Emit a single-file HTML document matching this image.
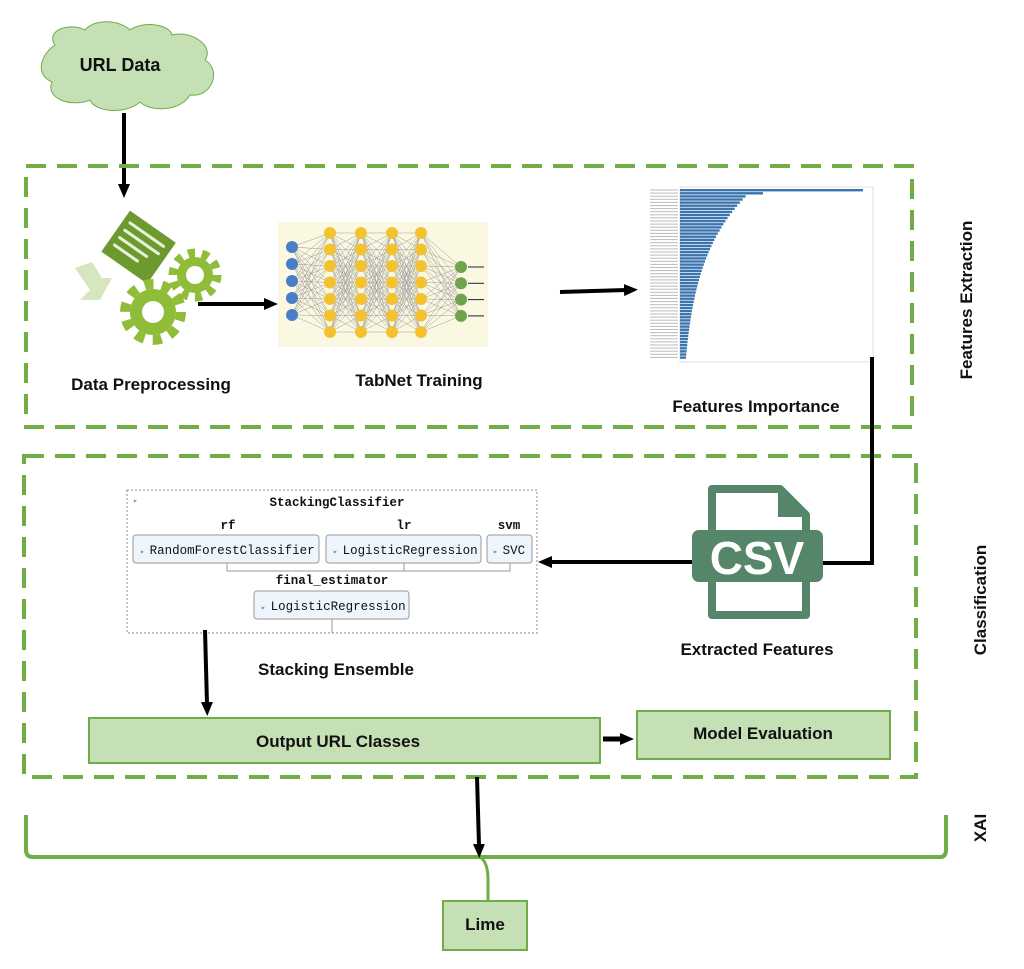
<!DOCTYPE html>
<html><head><meta charset="utf-8"><style>
html,body{margin:0;padding:0;background:#fff;}
body{width:1024px;height:969px;overflow:hidden;position:relative;font-family:"Liberation Sans",sans-serif;}
svg{position:absolute;left:0;top:0;}
</style></head><body>
<svg id="s" width="1024" height="969" viewBox="0 0 1024 969" xmlns="http://www.w3.org/2000/svg">
<defs>
<marker id="ah" markerWidth="14" markerHeight="12" refX="2" refY="6" orient="auto" markerUnits="userSpaceOnUse"><path d="M0,0 L14,6 L0,12 z" fill="#000"/></marker>
</defs>
<g fill="#c5e0b4" stroke="#70ad47" stroke-width="1">
<path d="M55,45 C45,30 70,22 85,30 C95,18 120,20 130,30 C145,20 170,25 172,35 C190,30 215,45 205,60 C222,70 212,98 190,95 C180,112 150,112 140,102 C125,115 95,112 90,100 C70,108 45,98 52,82 C35,75 40,55 55,45 Z"/>
</g>
<text x="120" y="71" font-size="18" font-weight="bold" text-anchor="middle" fill="#111">URL Data</text>
<line x1="124" y1="113" x2="124" y2="186" stroke="#000" stroke-width="4" marker-end="url(#ah)"/>
<rect x="26" y="166" width="886" height="261" fill="none" stroke="#70ad47" stroke-width="4" stroke-dasharray="20,11"/>
<rect x="24" y="456" width="892" height="321" fill="none" stroke="#70ad47" stroke-width="4" stroke-dasharray="20,11"/>
<polygon points="75,268 92,262 102,278 112,278 100,300 80,300 90,290" fill="#d6e6bf"/>
<g transform="rotate(35 138 248)"><rect x="110" y="222" width="56" height="50" fill="#6c9a2f"/>
<g stroke="#e8f2d8" stroke-width="3" stroke-linecap="round"><line x1="117" y1="232" x2="158" y2="232"/><line x1="117" y1="241" x2="158" y2="241"/><line x1="117" y1="250" x2="150" y2="250"/><line x1="117" y1="259" x2="145" y2="259"/></g></g>
<g fill="#8fbd3a"><circle cx="195" cy="275" r="18"/><circle cx="195" cy="275" r="22" fill="none" stroke="#8fbd3a" stroke-width="9" stroke-dasharray="7,6.8"/><circle cx="195" cy="275" r="9" fill="#fff"/></g>
<g fill="#8fbd3a"><circle cx="153" cy="312" r="23"/><circle cx="153" cy="312" r="28" fill="none" stroke="#8fbd3a" stroke-width="10" stroke-dasharray="9,8.6"/><circle cx="153" cy="312" r="11" fill="#fff"/></g>
<text x="151" y="390" font-size="17" font-weight="bold" text-anchor="middle" fill="#111">Data Preprocessing</text>
<line x1="198" y1="304" x2="266" y2="304" stroke="#000" stroke-width="4" marker-end="url(#ah)"/>
<rect x="278" y="222" width="210" height="125" fill="#fbf8e2"/>
<g id="nn"></g>
<text x="419" y="386" font-size="17" font-weight="bold" text-anchor="middle" fill="#111">TabNet Training</text>
<line x1="560" y1="292" x2="626" y2="290" stroke="#000" stroke-width="4" marker-end="url(#ah)"/>
<rect x="680" y="187" width="193" height="175" fill="none" stroke="#ccc" stroke-width="0.6"/>
<g id="bars"></g>
<text x="756" y="412" font-size="17" font-weight="bold" text-anchor="middle" fill="#111">Features Importance</text>
<polyline points="872,357 872,563 818,563" fill="none" stroke="#000" stroke-width="4"/>
<path d="M712,489 L780,489 L806,515 L806,615 L712,615 Z" fill="#fff" stroke="#55866a" stroke-width="8" stroke-linejoin="round"/>
<polygon points="778,489 806,517 778,517" fill="#55866a"/>
<rect x="692" y="530" width="131" height="52" rx="7" fill="#55866a"/>
<text x="757" y="574" font-size="46" font-weight="bold" text-anchor="middle" fill="#fff">CSV</text>
<text x="757" y="655" font-size="17" font-weight="bold" text-anchor="middle" fill="#111">Extracted Features</text>
<line x1="692" y1="562" x2="550" y2="562" stroke="#000" stroke-width="4" marker-end="url(#ah)"/>
<rect x="127" y="490" width="410" height="143" fill="none" stroke="#888" stroke-width="1" stroke-dasharray="2,2"/>
<g font-family="Liberation Mono, monospace" font-size="12.5" fill="#111">
<text x="133" y="503" font-size="8" fill="#888">▸</text>
<text x="337" y="506" text-anchor="middle" font-weight="bold">StackingClassifier</text>
<text x="228" y="529" text-anchor="middle" font-weight="bold">rf</text>
<text x="404" y="529" text-anchor="middle" font-weight="bold">lr</text>
<text x="509" y="529" text-anchor="middle" font-weight="bold">svm</text>
<rect x="133" y="535" width="186" height="28" rx="3" fill="#eef5fc" stroke="#999"/>
<rect x="326" y="535" width="155" height="28" rx="3" fill="#eef5fc" stroke="#999"/>
<rect x="487" y="535" width="45" height="28" rx="3" fill="#eef5fc" stroke="#999"/>
<text x="140" y="554"><tspan font-size="8" fill="#888">▸ </tspan>RandomForestClassifier</text>
<text x="333" y="554"><tspan font-size="8" fill="#888">▸ </tspan>LogisticRegression</text>
<text x="493" y="554"><tspan font-size="8" fill="#888">▸ </tspan>SVC</text>
<polyline points="227,563 227,571 510,571 510,563" fill="none" stroke="#999"/>
<line x1="404" y1="563" x2="404" y2="571" stroke="#999"/>
<text x="332" y="584" text-anchor="middle" font-weight="bold">final_estimator</text>
<rect x="254" y="591" width="155" height="28" rx="3" fill="#eef5fc" stroke="#999"/>
<text x="261" y="610"><tspan font-size="8" fill="#888">▸ </tspan>LogisticRegression</text>
<line x1="332" y1="619" x2="332" y2="633" stroke="#999"/>
</g>
<text x="336" y="675" font-size="17" font-weight="bold" text-anchor="middle" fill="#111">Stacking Ensemble</text>
<line x1="205" y1="630" x2="207" y2="704" stroke="#000" stroke-width="4" marker-end="url(#ah)"/>
<rect x="89" y="718" width="511" height="45" fill="#c5e0b4" stroke="#70ad47" stroke-width="2"/>
<text x="338" y="747" font-size="17" font-weight="bold" text-anchor="middle" fill="#111">Output URL Classes</text>
<line x1="603" y1="739" x2="622" y2="739" stroke="#000" stroke-width="5" marker-end="url(#ah)"/>
<rect x="637" y="711" width="253" height="48" fill="#c5e0b4" stroke="#70ad47" stroke-width="2"/>
<text x="763" y="739" font-size="17" font-weight="bold" text-anchor="middle" fill="#111">Model Evaluation</text>
<path d="M26,815 L26,850 Q26,857 33,857 L940,857 Q946,857 946,850 L946,815" fill="none" stroke="#70ad47" stroke-width="4"/>
<path d="M480,857 Q488,862 488,880 L488,901" fill="none" stroke="#70ad47" stroke-width="3"/>
<line x1="477" y1="777" x2="479" y2="846" stroke="#000" stroke-width="4" marker-end="url(#ah)"/>
<rect x="443" y="901" width="84" height="49" fill="#c5e0b4" stroke="#70ad47" stroke-width="2"/>
<text x="485" y="930" font-size="17" font-weight="bold" text-anchor="middle" fill="#111">Lime</text>
<text transform="translate(972,300) rotate(-90)" font-size="17" font-weight="bold" text-anchor="middle" fill="#111">Features Extraction</text>
<text transform="translate(986,600) rotate(-90)" font-size="17" font-weight="bold" text-anchor="middle" fill="#111">Classification</text>
<text transform="translate(986,828) rotate(-90)" font-size="17" font-weight="bold" text-anchor="middle" fill="#111">XAI</text>
</svg>
<script>
var NS="http://www.w3.org/2000/svg";
function el(p,t,a){var e=document.createElementNS(NS,t);for(var k in a)e.setAttribute(k,a[k]);p.appendChild(e);return e;}
var nn=document.getElementById("nn");
var layers=[[292,5,247,17,"#4a7fc8"],[330,7,233,16.5,"#f2c230"],[361,7,233,16.5,"#f2c230"],[392,7,233,16.5,"#f2c230"],[421,7,233,16.5,"#f2c230"],[461,4,267,16.3,"#6fa34c"]];
for(var l=0;l<layers.length-1;l++){var a=layers[l],b=layers[l+1];
for(var i=0;i<a[1];i++)for(var j=0;j<b[1];j++)el(nn,"line",{x1:a[0],y1:a[2]+i*a[3],x2:b[0],y2:b[2]+j*b[3],stroke:"#999","stroke-width":"0.5"});}
layers.forEach(function(L){for(var i=0;i<L[1];i++)el(nn,"circle",{cx:L[0],cy:L[2]+i*L[3],r:6,fill:L[4]});});
for(var i=0;i<4;i++)el(nn,"line",{x1:468,y1:267+i*16.3,x2:484,y2:267+i*16.3,stroke:"#222","stroke-width":"1"});
var bars=document.getElementById("bars");var n=55;
for(var i=0;i<n;i++){var w=i==0?183:(i==1?83:Math.max(4,72*Math.pow(0.955,i)));
el(bars,"rect",{x:680,y:189+i*3.1,width:w,height:2.4,fill:"#3b75af"});
el(bars,"rect",{x:650,y:189.5+i*3.1,width:28,height:1,fill:"#bbb"});}
</script>
</body></html>
